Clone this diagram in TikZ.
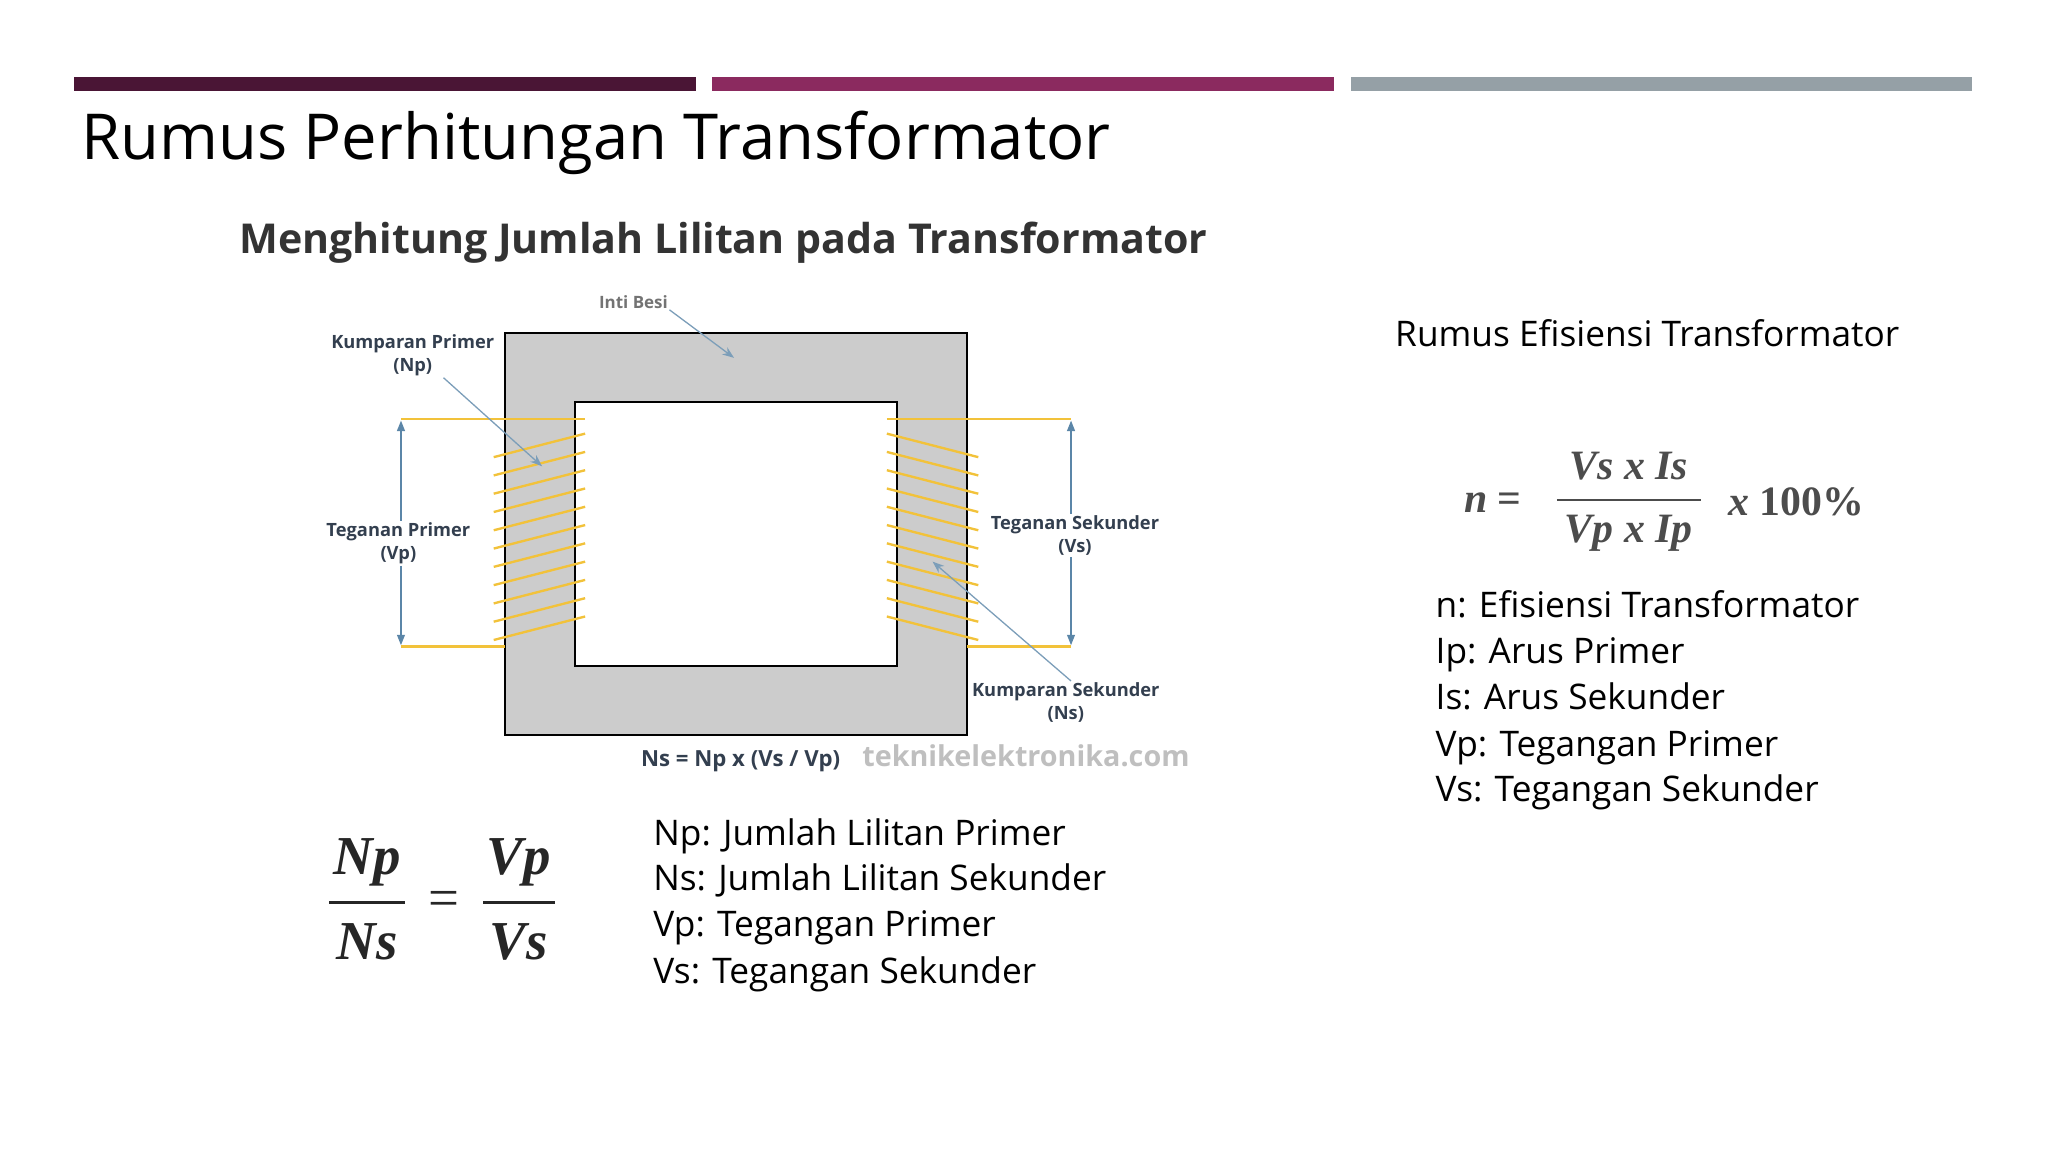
\documentclass[tikz,border=0pt]{standalone}
\usepackage{fontspec}
\setmainfont{Open Sans}
\newfontfamily\formfont{Liberation Serif}
\usetikzlibrary{arrows.meta}
\definecolor{barA}{HTML}{4A1535}
\definecolor{barB}{HTML}{8B2A5F}
\definecolor{barC}{HTML}{95A0A6}
\definecolor{coil}{HTML}{F2C23A}
\definecolor{arr}{HTML}{5B86A8}
\definecolor{lbl}{HTML}{333F4F}
\begin{document}
\begin{tikzpicture}[x=1pt,y=-1pt,
  body/.style={font=\fontsize{27}{33}\selectfont,anchor=base west,inner sep=0},
  small/.style={font=\fontsize{14}{18}\selectfont\bfseries,text=lbl,align=center,inner sep=1},
  wire/.style={coil,line width=1.8pt},
  varr/.style={arr,line width=1.2pt,-{Triangle[length=8pt,width=6pt]}},
  parr/.style={arr!80,line width=1pt,-{Stealth[length=9pt]}},
  fa/.style={inner sep=0,font=\formfont\bfseries\itshape\fontsize{42}{46}\selectfont,text=black!85},
  fb/.style={inner sep=0,font=\formfont\bfseries\itshape\fontsize{32}{36}\selectfont,text=black!70}]
\useasboundingbox (0,0) rectangle (1568,882);
\fill[barA] (57,59) rectangle (533,70);
\fill[barB] (545,59) rectangle (1021,70);
\fill[barC] (1034,59) rectangle (1510,70);
\node[anchor=base west,inner sep=0,font=\fontsize{48.5}{52}\selectfont] (title) at (62,122) {Rumus Perhitungan Transformator};
\node[anchor=base west,inner sep=0,font=\fontsize{31.5}{34}\selectfont\bfseries,text=black!80] (sub) at (183,194) {Menghitung Jumlah Lilitan pada Transformator};
\draw[fill=black!20,line width=1.5pt] (387,255) rectangle (740,563);
\draw[fill=white,line width=1.5pt] (440,308) rectangle (687,510);
\draw[wire] (307,321) -- (448,321);
\draw[wire] (307,495) -- (387,495);
\draw[wire] (679,321) -- (820,321);
\draw[wire] (740,495) -- (820,495);
\foreach \y in {338,352,366,380,394,408,422,436,450,464,478}{
  \draw[wire] (378,\y+12) -- (448,\y-6);
  \draw[wire] (679,\y-6) -- (749,\y+12);
}
\coordinate (lt) at (307,322); \coordinate (lb) at (307,494);
\coordinate (rt) at (820,322); \coordinate (rb) at (820,494);
\node[small] (vp) at (305,416) {Teganan Primer\\(Vp)};
\node[small] (vs) at (823,410) {Teganan Sekunder\\(Vs)};
\draw[varr] (vp.north -| lt) -- (lt);
\draw[varr] (vp.south -| lb) -- (lb);
\draw[varr] (vs.north -| rt) -- (rt);
\draw[varr] (vs.south -| rb) -- (rb);
\node[small,font=\fontsize{13}{16}\selectfont\bfseries,text=black!55] (inti) at (485,231) {Inti Besi};
\coordinate (intiP) at (562,274);
\draw[parr] (inti.south east) -- (intiP);
\node[small] (kp) at (316,272) {Kumparan Primer\\(Np)};
\coordinate (kpP) at (415,357);
\draw[parr] ([xshift=-40pt]kp.south east) -- (kpP);
\node[small] (ks) at (816,538) {Kumparan Sekunder\\(Ns)};
\coordinate (ksP) at (714,430);
\draw[parr] ([xshift=4pt]ks.north) -- (ksP);
\node[anchor=base,inner sep=0,font=\fontsize{17}{20}\selectfont\bfseries,text=lbl] (eq0) at (567,587) {Ns = Np x (Vs / Vp)};
\node[anchor=base west,inner sep=0,font=\fontsize{22}{26}\selectfont\bfseries,text=black!25] (wm) at (660,587) {teknikelektronika.com};
% left formula
\node[fa] (np) at (281,660) {Np};
\node[fa] (ns) at (281,721) {Ns};
\node[fa,font=\formfont\fontsize{42}{46}\selectfont] (eq1) at (340,692) {=};
\node[fa] (vpn) at (397,660) {Vp};
\node[fa] (vsn) at (397,721) {Vs};
\draw[line width=2pt,black!85] (252,691) -- (310,691);
\draw[line width=2pt,black!85] (370,691) -- (425,691);
\node[body] (l1) at (500,647) {Np: Jumlah Lilitan Primer};
\node[body] (l2) at (500,682) {Ns: Jumlah Lilitan Sekunder};
\node[body] (l3) at (500,717) {Vp: Tegangan Primer};
\node[body] (l4) at (500,753) {Vs: Tegangan Sekunder};
\node[body] (eh) at (1068,265) {Rumus Efisiensi Transformator};
% right formula
\node[fb] (nn) at (1143,385) {\textit{n} \upshape =};
\node[fb] (num) at (1247,357) {Vs x Is};
\node[fb] (den) at (1247,408) {Vp x Ip};
\node[fb] (pc) at (1375,384) {x \upshape 100\%};
\draw[line width=1.8pt,black!70] (1192,383) -- (1302,383);
\node[body] (r1) at (1099,473) {n: Efisiensi Transformator};
\node[body] (r2) at (1099,508) {Ip: Arus Primer};
\node[body] (r3) at (1099,543) {Is: Arus Sekunder};
\node[body] (r4) at (1099,579) {Vp: Tegangan Primer};
\node[body] (r5) at (1099,614) {Vs: Tegangan Sekunder};
\end{tikzpicture}
\end{document}
